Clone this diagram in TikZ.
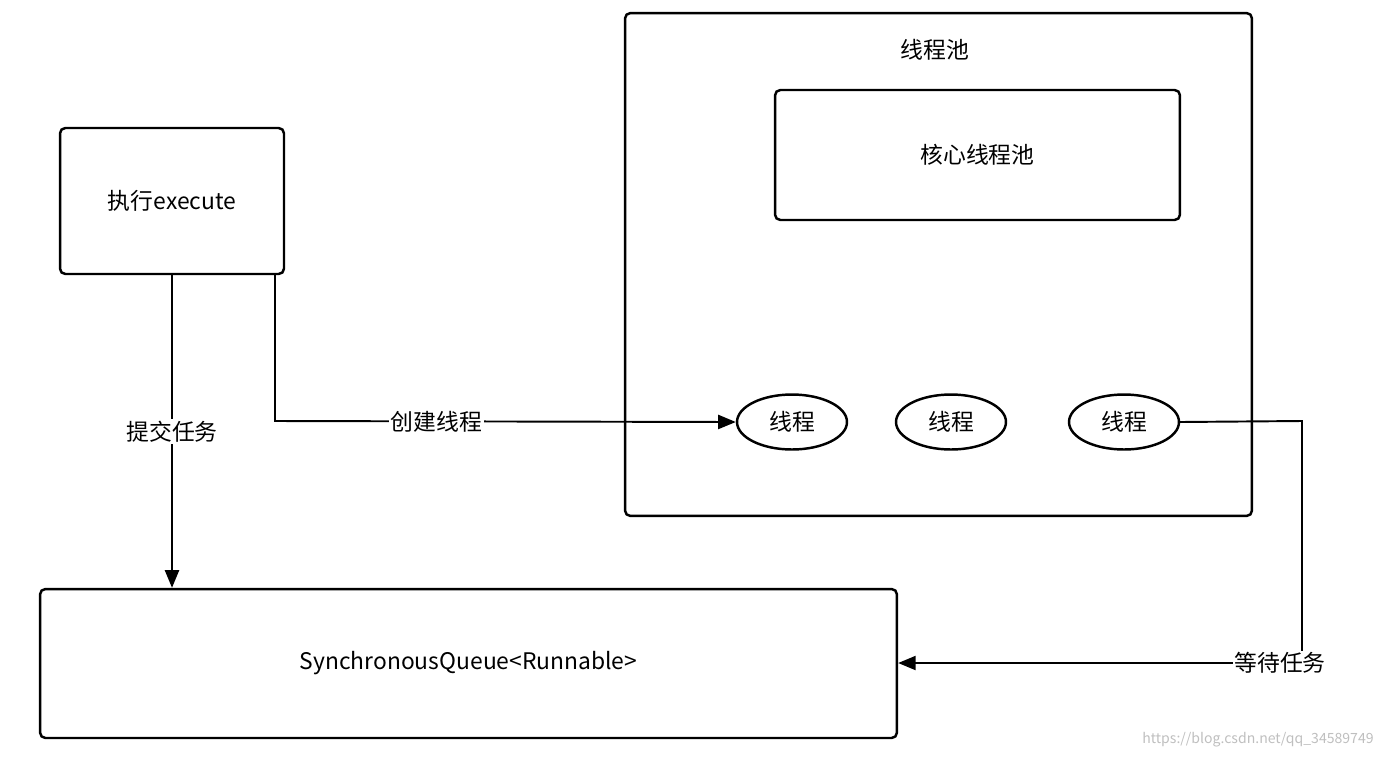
\documentclass[tikz,border=0pt]{standalone}
\usepackage{fontspec}
\setmainfont{Noto Sans CJK SC}
\usetikzlibrary{arrows.meta,shapes.geometric}

\begin{document}
\begin{tikzpicture}[x=0.02cm,y=-0.02cm,
    box/.style={draw,line width=1.4pt,rounded corners=3pt,inner sep=0pt},
    thread/.style={draw,line width=1.4pt,ellipse,minimum width=2.2cm,minimum height=1.1cm,inner sep=0pt},
    flow/.style={draw,line width=1.1pt,-{Triangle[length=10pt,width=8pt]}},
    every node/.style={font=\fontsize{13}{15}\selectfont}]
\useasboundingbox (0,0) rectangle (1386,758);
\begin{scope}
    \node (exec)[box,minimum width=4.48cm,minimum height=2.92cm] at (172,201) {执行execute};
    \node (pool)[box,minimum width=12.54cm,minimum height=10.06cm] at (938.5,264.5) {};
    \node (title) at (935,50) {线程池};
    \node (core)[box,minimum width=8.1cm,minimum height=2.6cm] at (977.5,155) {核心线程池};
    \node (t1)[thread] at (792,422) {线程};
    \node (t2)[thread] at (951,422) {线程};
    \node (t3)[thread] at (1124,422) {线程};
    \node (queue)[box,minimum width=17.14cm,minimum height=2.98cm] at (468.5,663.5) {SynchronousQueue<Runnable>};
    \coordinate (c1) at (275,421);
    \coordinate (c2) at (1302,421);
    \coordinate (c3) at (1302,663);
\end{scope}

\begin{scope}[every node/.style={fill=white,inner sep=1pt,font=\fontsize{13}{15}\selectfont}]
    \path[flow] (exec.south) -- node[pos=0.5] {提交任务} (exec.south |- queue.north);
    \path[flow] (exec.south east -| c1) -- (c1) -- node[pos=0.35] {创建线程} (t1.west);
    \path[flow] (t3.east) -- (c2) -- (c3) -- (queue.east |- c3);
    \node (wait) at (1280,663) {等待任务};
\end{scope}
\node (mark)[text=black!25,font=\fontsize{8}{9}\selectfont] at (1258,740) {https://blog.csdn.net/qq\_34589749};
\end{tikzpicture}
\end{document}
